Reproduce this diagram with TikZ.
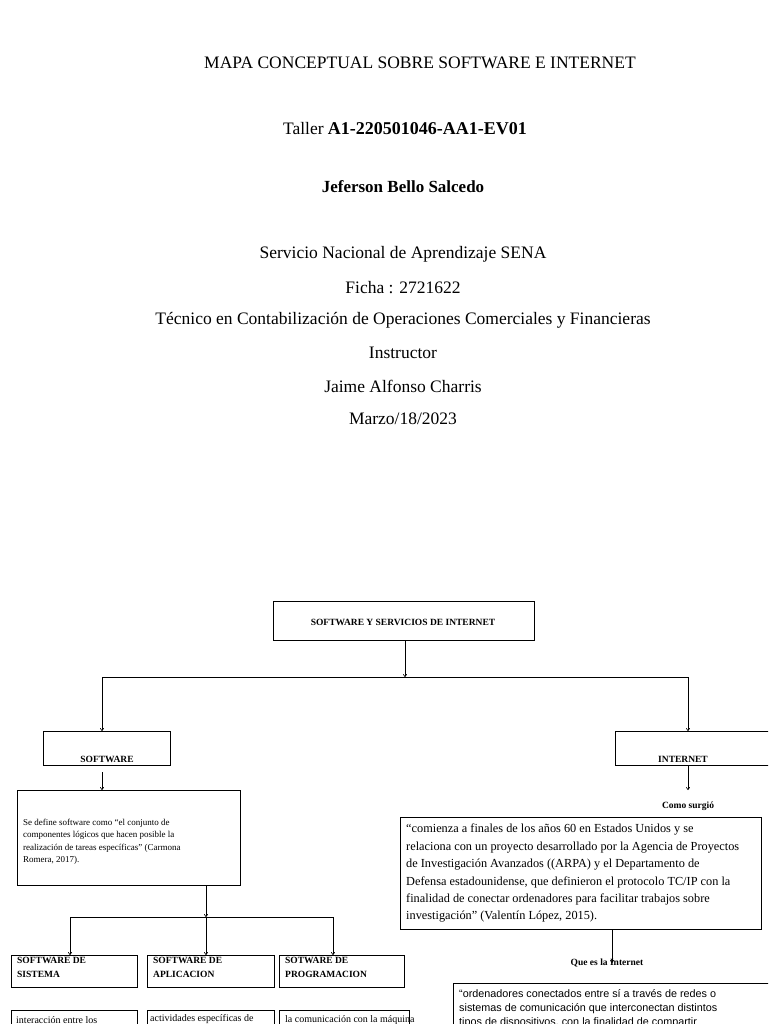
\documentclass[tikz,border=0pt]{standalone}
\usepackage{fontspec}
\usetikzlibrary{arrows.meta}
\setmainfont{Liberation Serif}
\newfontfamily\arialf{Liberation Sans}
\begin{document}
\begin{tikzpicture}[x=1pt,y=-1pt,
 box/.style={draw,line width=0.8pt},
 arr/.style={-{To[length=3pt,width=4pt]},line width=0.6pt},
 ln/.style={line width=0.8pt},
 ttl/.style={font=\fontsize{17.5}{20}\selectfont,anchor=center,inner sep=0},
 bt/.style={font=\fontsize{9.5}{14}\selectfont\bfseries,inner sep=0},
 st/.style={font=\fontsize{10}{12}\selectfont,inner sep=0,align=left}]
\useasboundingbox (0,0) rectangle (768,1024);
\clip (0,0) rectangle (768,1024);
\node[ttl] (t1) at (420,63) {MAPA CONCEPTUAL SOBRE SOFTWARE E INTERNET};
\node[ttl] (t2) at (405,129) {Taller \fontsize{18}{20}\selectfont\bfseries A1-220501046-AA1-EV01};
\node[ttl,font=\fontsize{17}{20}\selectfont\bfseries] (t3) at (403,187) {Jeferson Bello Salcedo};
\node[ttl] (t4) at (403,254) {Servicio Nacional de Aprendizaje SENA};
\node[ttl] (t5) at (403,288) {Ficha : 2721622};
\node[ttl] (t6) at (403,320) {Técnico en Contabilización de Operaciones Comerciales y Financieras};
\node[ttl] (t7) at (403,353) {Instructor};
\node[ttl] (t8) at (403,386) {Jaime Alfonso Charris};
\node[ttl] (t9) at (403,419) {Marzo/18/2023};
% top
\draw[box] (273,601) rectangle (534,640);
\node[bt] (top) at (403,622) {SOFTWARE Y SERVICIOS DE INTERNET};
\coordinate (topb) at (405,640);
\coordinate (hj) at (405,677);
\draw[arr] (topb) -- (hj);
\draw[ln] (102,677) -- (688,677);
\draw[box] (43,731) rectangle (170,765);
\node[bt] (sw) at (107,759) {SOFTWARE};
\draw[box] (615,731) rectangle (771,765);
\node[bt] (inet) at (683,759) {INTERNET};
\draw[arr] (102,677) -- (102,731);
\draw[arr] (688,677) -- (688,731);
\draw[arr] (102,772) -- (102,790);
\draw[box] (17,790) rectangle (240,885);
\node[st,anchor=north west,font=\fontsize{9}{12.3}\selectfont] (def) at (23,819) {Se define software como “el conjunto de\\componentes lógicos que hacen posible la\\realización de tareas específicas” (Carmona\\Romera, 2017).};
\draw[arr] (206,885) -- (206,917);
\draw[ln] (70,917) -- (333,917);
\foreach \x in {70,206,333} \draw[arr] (\x,917) -- (\x,955);
\draw[box] (11,955) rectangle (137,987);
\draw[box] (147,955) rectangle (274,987);
\draw[box] (279,955) rectangle (404,987);
\node[bt,anchor=north west,align=left] (s1) at (17,957) {SOFTWARE DE\\SISTEMA};
\node[bt,anchor=north west,align=left] (s2) at (153,957) {SOFTWARE DE\\APLICACION};
\node[bt,anchor=north west,align=left] (s3) at (285,957) {SOTWARE DE\\PROGRAMACION};
\draw[box] (11,1010) rectangle (137,1040);
\draw[box] (147,1010) rectangle (274,1040);
\draw[box] (279,1010) rectangle (409,1040);
\node[st,anchor=north west] (d1) at (16,1016) {interacción entre los};
\node[st,anchor=north west] (d2) at (150,1014) {actividades específicas de};
\node[st,anchor=north west] (d3) at (285,1015) {la comunicación con la máquina};
% internet
\draw[arr] (688,765) -- (688,790);
\node[bt] (cs) at (688,806) {Como surgió};
\draw[box] (400,817) rectangle (761,929);
\node[inner sep=0,anchor=north west,align=left,font=\fontsize{12.3}{17.4}\selectfont] (hist) at (406,824) {“comienza a finales de los años 60 en Estados Unidos y se\\relaciona con un proyecto desarrollado por la Agencia de Proyectos\\de Investigación Avanzados ((ARPA) y el Departamento de\\Defensa estadounidense, que definieron el protocolo TC/IP con la\\finalidad de conectar ordenadores para facilitar trabajos sobre\\investigación” (Valentín López, 2015).};
\draw[arr] (612,929) -- (612,963);
\node[bt] (qi) at (607,963) {Que es la Internet};
\draw[box] (453,983) rectangle (778,1060);
\node[inner sep=0,anchor=north west,align=left,font=\arialf\fontsize{10.8}{14}\selectfont] (qd) at (459,989) {“ordenadores conectados entre sí a través de redes o\\sistemas de comunicación que interconectan distintos\\tipos de dispositivos, con la finalidad de compartir};
\end{tikzpicture}
\end{document}
